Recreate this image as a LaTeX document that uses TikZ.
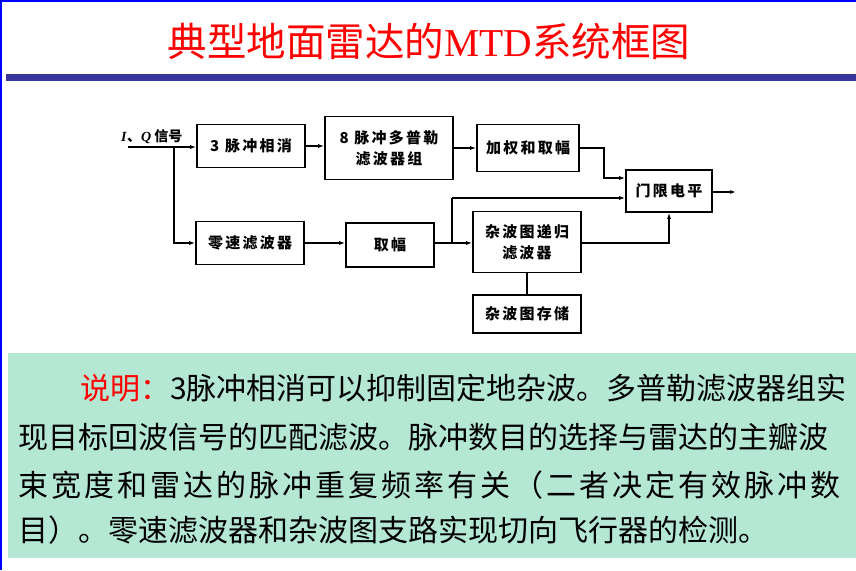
\documentclass[tikz,border=0pt]{standalone}
\usepackage{fontspec}
\setmainfont{Liberation Serif}
\newfontfamily\cjk{Noto Sans CJK SC}
\usetikzlibrary{arrows.meta}
\begin{document}
\begin{tikzpicture}[x=1pt,y=-1pt,
  blk/.style={draw,line width=1.6pt,inner sep=0pt,font=\cjk\bfseries\fontsize{15}{21}\selectfont\addfontfeature{LetterSpace=15},align=center},
  wire/.style={line width=1.4pt},
  arr/.style={wire,-{Latex[length=6pt,width=4pt]}}]
\useasboundingbox (0,0) rectangle (856,570);
\fill[white] (0,0) rectangle (856,570);
\draw[blue,line width=2pt] (1,570) -- (1,1) -- (856,1);
\fill[fill={rgb,255:red,55;green,55;blue,155}] (6,74) rectangle (856,81);
\node[text=red,font=\cjk\fontsize{39.5}{44}\selectfont] (title) at (429,41) {典型地面雷达的{\rmfamily MTD}系统框图};
% diagram
\node[blk,minimum width=108pt,minimum height=43pt] (c3) at (251,146) {3 脉冲相消};
\node[blk,minimum width=128pt,minimum height=63pt] (dop) at (389,148) {8 脉冲多普勒\\滤波器组};
\node[blk,minimum width=102pt,minimum height=47pt] (wt) at (528,148) {加权和取幅};
\node[blk,minimum width=86pt,minimum height=42pt] (th) at (669,191) {门限电平};
\node[blk,minimum width=108pt,minimum height=43pt] (zv) at (250,243) {零速滤波器};
\node[blk,minimum width=88pt,minimum height=44pt] (am) at (390,245) {取幅};
\node[blk,minimum width=108pt,minimum height=61pt] (cm) at (527,242) {杂波图递归\\滤波器};
\node[blk,minimum width=108pt,minimum height=38pt] (cs) at (527,314) {杂波图存储};
\coordinate (in) at (128,147);
\coordinate (br) at (174,147);
\node[anchor=south west,inner sep=1pt,font=\cjk\bfseries\fontsize{14}{16}\selectfont] (lbl) at (120,145) {\textit{\rmfamily\bfseries I}、\textit{\rmfamily\bfseries Q} 信号};
\coordinate (out) at (736,192);
\draw[arr] (in) -- (c3.west |- in);
\draw[arr] (br) |- (zv.west);
\draw[arr] (c3.east) -- (c3.east -| dop.west);
\draw[arr] (dop.east |- wt.west) -- (wt.west);
\draw[arr] (wt.east) -| (604,178) -- (th.west |- 0,178);
\draw[arr] (zv.east) -- (am.west |- zv.east);
\draw[arr] (am.east |- 0,243) -- (cm.west |- 0,243);
\draw[wire] (452,243) -- (452,198);
\draw[arr] (452,198) -- (th.west |- 0,198);
\draw[wire] (cm.east |- 0,243) -| (669,225);
\draw[arr] (669,230) -- (th.south -| 669,0);
\draw[arr] (th.east |- out) -- (out);
\draw[line width=2.4pt] (cm.south) -- (cs.north);
% note
\fill[fill={rgb,255:red,180;green,232;blue,212}] (8,353) rectangle (856,558);
\begin{scope}[every node/.style={anchor=base west,inner sep=0pt,font=\cjk\fontsize{30}{34}\selectfont}]
\node (l1) at (80,399) {\textcolor{red}{说明：}3脉冲相消可以抑制固定地杂波。多普勒滤波器组实};
\node (l2) at (18,448) {现目标回波信号的匹配滤波。脉冲数目的选择与雷达的主瓣波};
\node (l3) at (18,496) {\addfontfeature{LetterSpace=10}束宽度和雷达的脉冲重复频率有关（二者决定有效脉冲数};
\node (l4) at (18,541) {目）。零速滤波器和杂波图支路实现切向飞行器的检测。};
\end{scope}
\end{tikzpicture}
\end{document}
